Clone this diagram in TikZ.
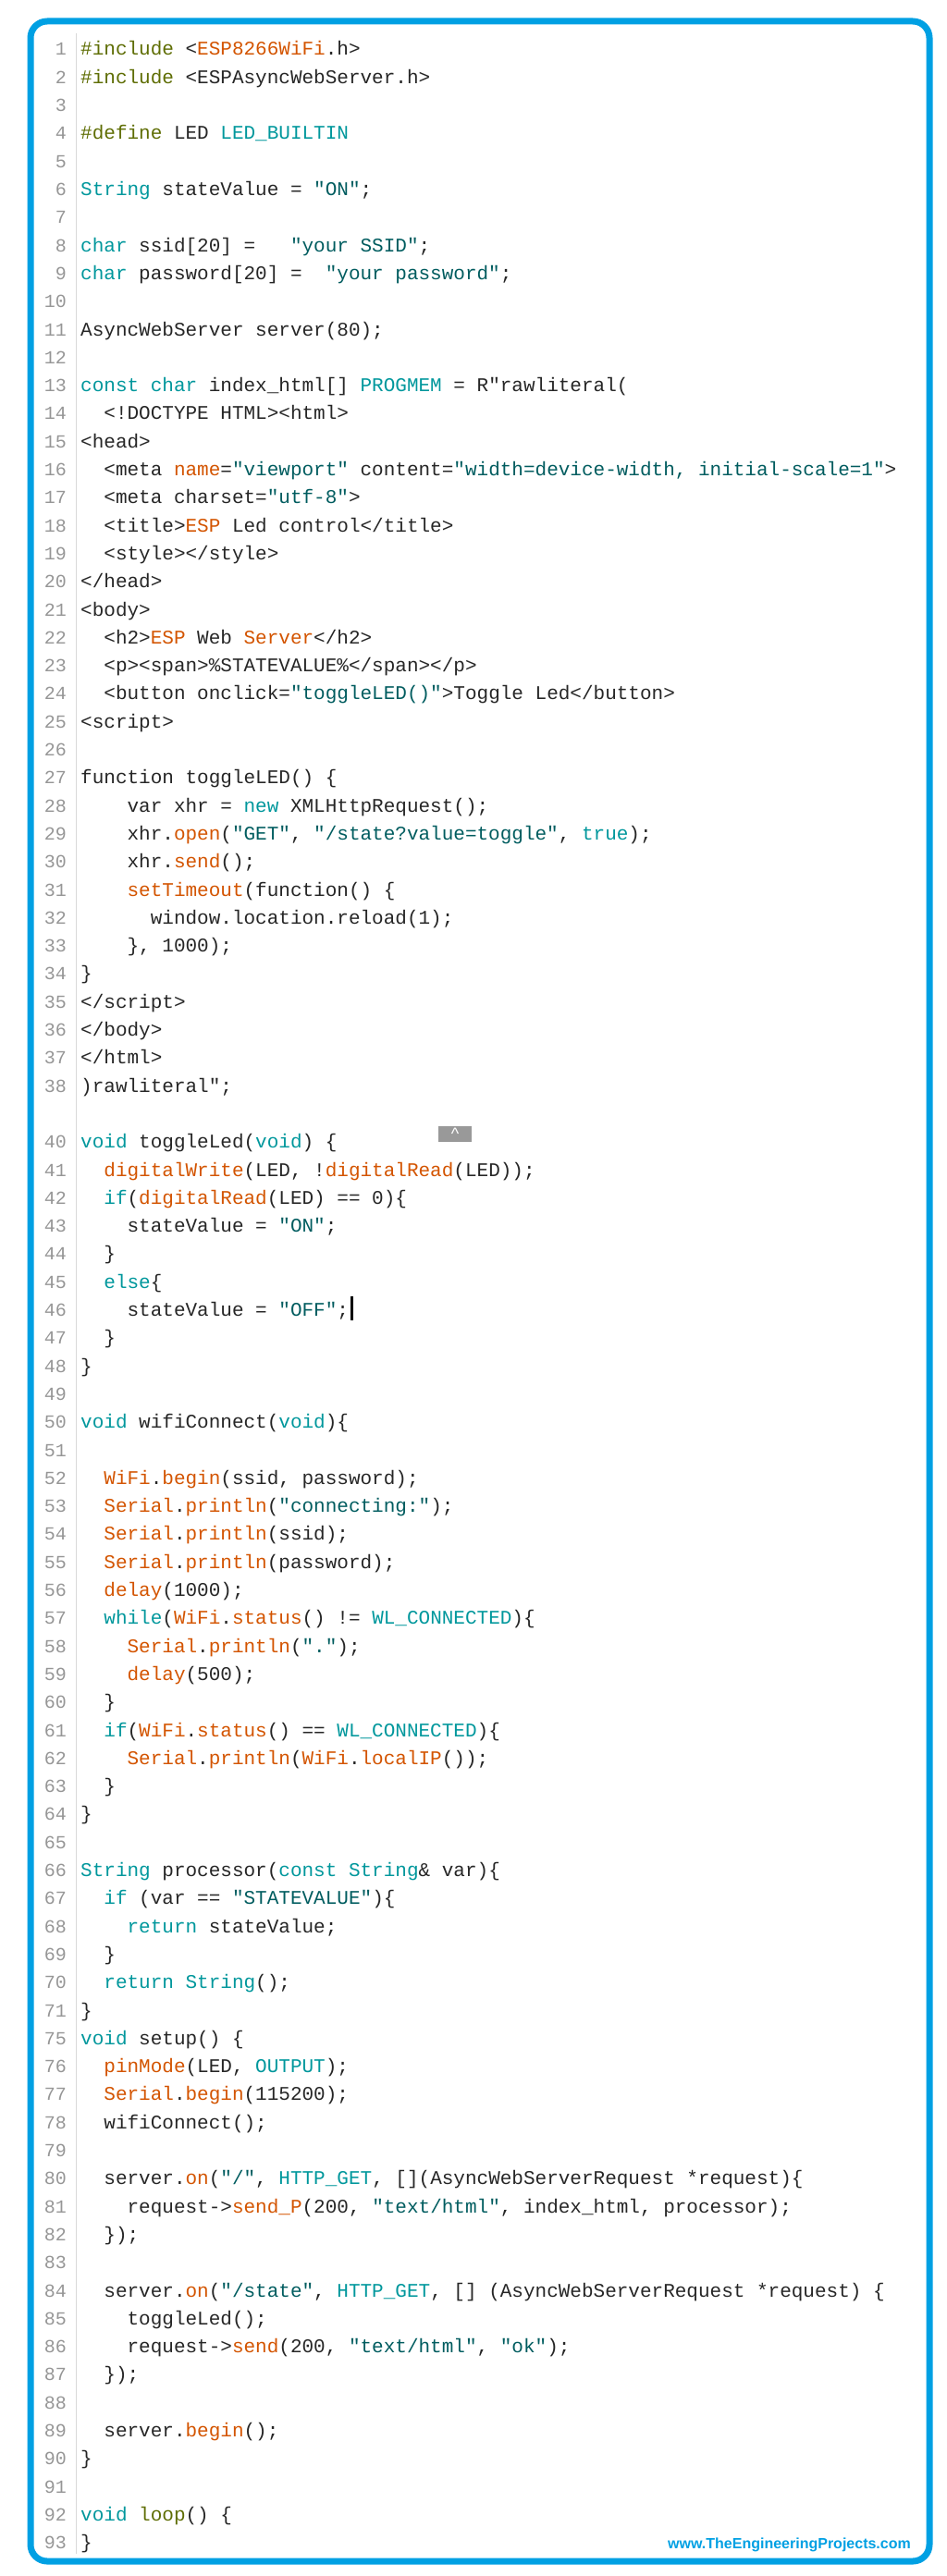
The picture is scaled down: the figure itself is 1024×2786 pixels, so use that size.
\documentclass[tikz,border=0pt]{standalone}
\usepackage{fontspec}
\setmonofont{Liberation Mono}
\setsansfont{Liberation Sans}
\usepackage{tikz}

\definecolor{frameblue}{RGB}{0,160,227}
\definecolor{kwcol}{RGB}{0,151,156}
\definecolor{fncol}{RGB}{211,84,0}
\definecolor{strcol}{RGB}{0,92,95}
\definecolor{ppcol}{RGB}{94,109,3}
\definecolor{numcol}{RGB}{150,150,150}
\newcommand\kw[1]{\textcolor{kwcol}{#1}}
\newcommand\fn[1]{\textcolor{fncol}{#1}}
\newcommand\st[1]{\textcolor{strcol}{#1}}
\newcommand\pp[1]{\textcolor{ppcol}{#1}}

\tikzset{
  linenum/.style={anchor=base east, inner sep=0pt, text=numcol, font=\ttfamily\fontsize{20}{20}\selectfont},
  codetext/.style={anchor=base west, inner sep=0pt, text=black!85, font=\ttfamily\fontsize{21}{21}\selectfont}
}

\begin{document}
\begin{tikzpicture}[x=1pt, y=1pt]
    \useasboundingbox (0,0) rectangle (1024,-2786);
    % line macro: row, number, text
    \def\cl#1#2#3{%
        \node[linenum] (n#2) at (72,{-(60+(#1-1)*30.3)}) {#2};
        \node[codetext] (c#2) at (87,{-(60+(#1-1)*30.3)}) {#3};}

    % Frame and gutter
    \draw[frameblue, line width=7pt, rounded corners=18pt] (33,-23) rectangle (1005,-2770);
    \draw[black!15, line width=1pt] (82,-36) -- (82,-2762);

    \cl{1}{1}{\pp{\#include} <\fn{ESP8266WiFi}.h>}
    \cl{2}{2}{\pp{\#include} <ESPAsyncWebServer.h>}
    \cl{3}{3}{}
    \cl{4}{4}{\pp{\#define} LED \kw{LED\_BUILTIN}}
    \cl{5}{5}{}
    \cl{6}{6}{\kw{String} stateValue = \st{"ON"};}
    \cl{7}{7}{}
    \cl{8}{8}{\kw{char} ssid[20] =~~~\st{"your SSID"};}
    \cl{9}{9}{\kw{char} password[20] =~~\st{"your password"};}
    \cl{10}{10}{}
    \cl{11}{11}{AsyncWebServer server(80);}
    \cl{12}{12}{}
    \cl{13}{13}{\kw{const} \kw{char} index\_html[] \kw{PROGMEM} = R"rawliteral(}
    \cl{14}{14}{~~<!DOCTYPE HTML><html>}
    \cl{15}{15}{<head>}
    \cl{16}{16}{~~<meta \fn{name}=\st{"viewport"} content=\st{"width=device-width, initial-scale=1"}>}
    \cl{17}{17}{~~<meta charset=\st{"utf-8"}>}
    \cl{18}{18}{~~<title>\fn{ESP} Led control</title>}
    \cl{19}{19}{~~<style></style>}
    \cl{20}{20}{</head>}
    \cl{21}{21}{<body>}
    \cl{22}{22}{~~<h2>\fn{ESP} Web \fn{Server}</h2>}
    \cl{23}{23}{~~<p><span>\%STATEVALUE\%</span></p>}
    \cl{24}{24}{~~<button onclick=\st{"toggleLED()"}>Toggle Led</button>}
    \cl{25}{25}{<script>}
    \cl{26}{26}{}
    \cl{27}{27}{function toggleLED() \{}
    \cl{28}{28}{~~~~var xhr = \kw{new} XMLHttpRequest();}
    \cl{29}{29}{~~~~xhr.\fn{open}(\st{"GET"}, \st{"/state?value=toggle"}, \kw{true});}
    \cl{30}{30}{~~~~xhr.\fn{send}();}
    \cl{31}{31}{~~~~\fn{setTimeout}(function() \{}
    \cl{32}{32}{~~~~~~window.location.reload(1);}
    \cl{33}{33}{~~~~\}, 1000);}
    \cl{34}{34}{\}}
    \cl{35}{35}{</script>}
    \cl{36}{36}{</body>}
    \cl{37}{37}{</html>}
    \cl{38}{38}{)rawliteral";}
    \cl{40}{40}{\kw{void} toggleLed(\kw{void}) \{}
    \cl{41}{41}{~~\fn{digitalWrite}(LED, !\fn{digitalRead}(LED));}
    \cl{42}{42}{~~\kw{if}(\fn{digitalRead}(LED) == 0)\{}
    \cl{43}{43}{~~~~stateValue = \st{"ON"};}
    \cl{44}{44}{~~\}}
    \cl{45}{45}{~~\kw{else}\{}
    \cl{46}{46}{~~~~stateValue = \st{"OFF"};}
    \cl{47}{47}{~~\}}
    \cl{48}{48}{\}}
    \cl{49}{49}{}
    \cl{50}{50}{\kw{void} wifiConnect(\kw{void})\{}
    \cl{51}{51}{}
    \cl{52}{52}{~~\fn{WiFi}.\fn{begin}(ssid, password);}
    \cl{53}{53}{~~\fn{Serial}.\fn{println}(\st{"connecting:"});}
    \cl{54}{54}{~~\fn{Serial}.\fn{println}(ssid);}
    \cl{55}{55}{~~\fn{Serial}.\fn{println}(password);}
    \cl{56}{56}{~~\fn{delay}(1000);}
    \cl{57}{57}{~~\kw{while}(\fn{WiFi}.\fn{status}() != \kw{WL\_CONNECTED})\{}
    \cl{58}{58}{~~~~\fn{Serial}.\fn{println}(\st{"."});}
    \cl{59}{59}{~~~~\fn{delay}(500);}
    \cl{60}{60}{~~\}}
    \cl{61}{61}{~~\kw{if}(\fn{WiFi}.\fn{status}() == \kw{WL\_CONNECTED})\{}
    \cl{62}{62}{~~~~\fn{Serial}.\fn{println}(\fn{WiFi}.\fn{localIP}());}
    \cl{63}{63}{~~\}}
    \cl{64}{64}{\}}
    \cl{65}{65}{}
    \cl{66}{66}{\kw{String} processor(\kw{const} \kw{String}\& var)\{}
    \cl{67}{67}{~~\kw{if} (var == \st{"STATEVALUE"})\{}
    \cl{68}{68}{~~~~\kw{return} stateValue;}
    \cl{69}{69}{~~\}}
    \cl{70}{70}{~~\kw{return} \kw{String}();}
    \cl{71}{71}{\}}
    \cl{72}{75}{\kw{void} setup() \{}
    \cl{73}{76}{~~\fn{pinMode}(LED, \kw{OUTPUT});}
    \cl{74}{77}{~~\fn{Serial}.\fn{begin}(115200);}
    \cl{75}{78}{~~wifiConnect();}
    \cl{76}{79}{}
    \cl{77}{80}{~~server.\fn{on}(\st{"/"}, \kw{HTTP\_GET}, [](AsyncWebServerRequest *request)\{}
    \cl{78}{81}{~~~~request->\fn{send\_P}(200, \st{"text/html"}, index\_html, processor);}
    \cl{79}{82}{~~\});}
    \cl{80}{83}{}
    \cl{81}{84}{~~server.\fn{on}(\st{"/state"}, \kw{HTTP\_GET}, [] (AsyncWebServerRequest *request) \{}
    \cl{82}{85}{~~~~toggleLed();}
    \cl{83}{86}{~~~~request->\fn{send}(200, \st{"text/html"}, \st{"ok"});}
    \cl{84}{87}{~~\});}
    \cl{85}{88}{}
    \cl{86}{89}{~~server.\fn{begin}();}
    \cl{87}{90}{\}}
    \cl{88}{91}{}
    \cl{89}{92}{\kw{void} \pp{loop}() \{}
    \cl{90}{93}{\}}

    % scroll button and cursor
    \node[fill=black!40, text=white, minimum width=36pt, minimum height=17pt, inner sep=0pt,
          font=\sffamily\fontsize{18}{18}\selectfont] (upbtn) at (492,-1226) {\raisebox{-6pt}{\string^}};
    \fill[black] ([xshift=2pt]c46.base east) ++(0,-4) rectangle ++(2.5,26);

    % watermark
    \node[anchor=base east, inner sep=0pt, text=frameblue,
          font=\sffamily\bfseries\fontsize{16}{16}\selectfont] (wm) at (985,-2756) {www.TheEngineeringProjects.com};
\end{tikzpicture}
\end{document}
